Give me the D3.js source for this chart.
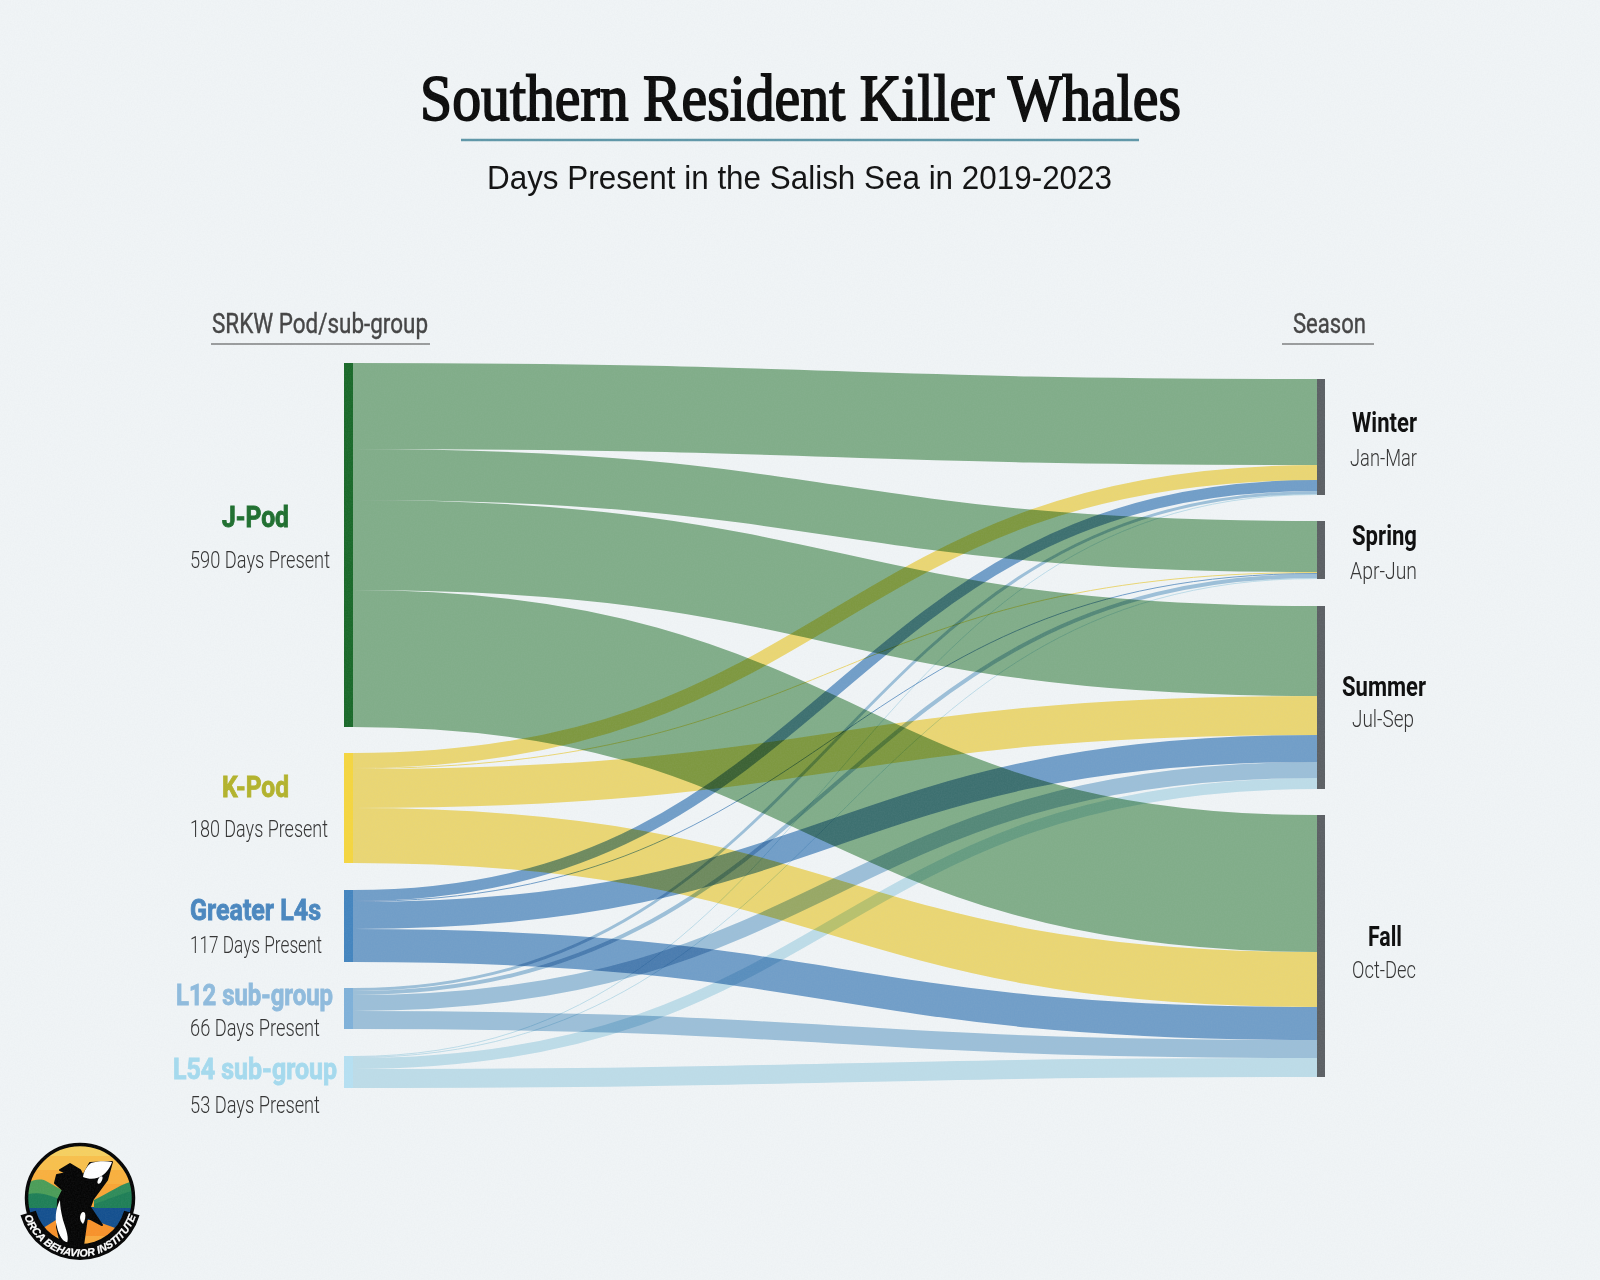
<!DOCTYPE html>
<html>
<head>
<meta charset="utf-8">
<script src="https://cdn.jsdelivr.net/npm/d3@7"></script>
<style>
  html, body { margin: 0; padding: 0; background: #f0f4f6; }
  svg { display: block; }
</style>
</head>
<body>
<div id="chart"></div>
<script>
// data (days present)
const pods = ["J-Pod", "K-Pod", "Greater L4s", "L12 sub-group", "L54 sub-group"];
const podTotals = ["590 Days Present", "180 Days Present", "117 Days Present", "66 Days Present", "53 Days Present"];
const seasons = ["Winter", "Spring", "Summer", "Fall"];
const seasonMonths = ["Jan-Mar", "Apr-Jun", "Jul-Sep", "Oct-Dec"];
const jPodDays = [139, 83, 146, 222];
const kPodDays = [24, 2, 64, 90];
const greaterL4sDays = [18, 2, 44, 53];
const l12Days = [5, 6, 26, 29];
const l54Days = [2, 2, 18, 31];
const podDays = [jPodDays, kPodDays, greaterL4sDays, l12Days, l54Days];

const w = 1600;
const h = 1280;
const nodeW = 9;
const leftX = 344;
const rightX = 1317;
const leftTop = 362.6;
const rightTop = 378.6;
const leftGap = 26.6;
const rightGap = 26.5;

const podColors = ["#89b58e", "#f9e077", "#78a5d0", "#a6c8e0", "#c9e6f1"];
const podNodeColors = ["#1a6a2a", "#f5d640", "#4485bf", "#7fb1d9", "#b6e0f2"];
const podTextColors = ["#1f6f2f", "#b3b32c", "#4a87bf", "#8fbbdd", "#a5daee"];
const seasonColor = "#5c6064";

const narrow = "'Liberation Sans Narrow', Roboto, sans-serif";

const svg = d3.select("#chart").append("svg")
  .attr("width", w)
  .attr("height", h)
  .style("isolation", "isolate");

const defs = svg.append("defs");

// paper grain
const grain = defs.append("filter").attr("id", "grain")
  .attr("x", 0).attr("y", 0).attr("width", "100%").attr("height", "100%");
grain.append("feTurbulence")
  .attr("type", "fractalNoise").attr("baseFrequency", 0.7).attr("numOctaves", 2).attr("seed", 4);
grain.append("feColorMatrix")
  .attr("values", "0 0 0 0 0.5  0 0 0 0 0.55  0 0 0 0 0.6  0 0 0 0.5 -0.14");

svg.append("rect").attr("width", w).attr("height", h).attr("fill", "#f0f4f6");

// sankey layout, done by hand because d3-sankey is not in the d3 bundle
const total = d3.sum(podDays, d => d3.sum(d));
const yDays = d3.scaleLinear().domain([0, total]).range([0, 619]);
// whole pixels keep neighbouring bands flush where they leave a node
const bandW = days => Math.round(yDays(days));

let cursor = leftTop;
const podNodes = pods.map((name, i) => {
  const y0 = Math.round(cursor);
  const size = d3.sum(podDays[i], bandW);
  cursor += size + leftGap;
  return { name, y0, y1: y0 + size, next: y0 };
});

cursor = rightTop;
const seasonNodes = seasons.map((name, s) => {
  const y0 = Math.round(cursor);
  const size = d3.sum(podDays, d => bandW(d[s]));
  cursor += size + rightGap;
  return { name, y0, y1: y0 + size, next: y0 };
});

const links = [];
podDays.forEach((row, p) => {
  row.forEach((days, s) => {
    const width = bandW(days);
    const y0 = podNodes[p].next + width / 2;
    const y1 = seasonNodes[s].next + width / 2;
    podNodes[p].next += width;
    seasonNodes[s].next += width;
    links.push({ p, s, width, y0, y1 });
  });
});

const linkPath = d3.linkHorizontal()
  .source(d => [leftX + nodeW, d.y0])
  .target(d => [rightX, d.y1]);

svg.append("g")
  .selectAll("path")
  .data(links)
  .enter()
  .append("path")
  .attr("d", linkPath)
  .attr("fill", "none")
  .attr("stroke", d => podColors[d.p])
  .attr("stroke-width", d => d.width)
  .style("mix-blend-mode", "multiply");

svg.append("g")
  .selectAll("rect")
  .data(podNodes)
  .enter()
  .append("rect")
  .attr("x", leftX)
  .attr("y", d => d.y0)
  .attr("width", nodeW)
  .attr("height", d => d.y1 - d.y0)
  .attr("fill", (_, i) => podNodeColors[i]);

svg.append("g")
  .selectAll("rect")
  .data(seasonNodes)
  .enter()
  .append("rect")
  .attr("x", rightX)
  .attr("y", d => d.y0)
  .attr("width", nodeW - 1)
  .attr("height", d => d.y1 - d.y0)
  .attr("fill", seasonColor);

// text squeezed to the measured width, no condensed face is installed
function label(str, x, y, width, size, opts = {}) {
  const t = svg.append("text")
    .attr("x", x)
    .attr("y", y)
    .attr("textLength", width)
    .attr("lengthAdjust", "spacingAndGlyphs")
    .attr("font-family", opts.family || narrow)
    .attr("font-size", size)
    .attr("font-weight", opts.weight || 400)
    .attr("fill", opts.fill || "#111")
    .text(str);
  if (opts.thick) t.attr("stroke", opts.fill || "#111").attr("stroke-width", opts.thick);
  return t;
}

label("Southern Resident Killer Whales", 420, 119.5, 761, 66,
  { family: "'Liberation Serif', serif", fill: "#0c0c0c", thick: 1.8 });
svg.append("line").attr("x1", 461).attr("x2", 1139).attr("y1", 140).attr("y2", 140)
  .attr("stroke", "#5f97a8").attr("stroke-width", 2.5);
label("Days Present in the Salish Sea in 2019-2023", 487, 189, 625, 34,
  { family: "'Liberation Sans', sans-serif", fill: "#111" });

label("SRKW Pod/sub-group", 212, 333, 216, 28, { fill: "#444", thick: 0.4 });
svg.append("line").attr("x1", 211).attr("x2", 430).attr("y1", 344).attr("y2", 344)
  .attr("stroke", "#444").attr("stroke-width", 1.2);
label("Season", 1293, 333, 73, 28, { fill: "#444", thick: 0.4 });
svg.append("line").attr("x1", 1282).attr("x2", 1374).attr("y1", 344).attr("y2", 344)
  .attr("stroke", "#444").attr("stroke-width", 1.2);

// label boxes: left x, width, name baseline, sub baseline
const podLabelPos = [
  { x: 222, w: 67, y: 527, subY: 568, subW: 140 },
  { x: 222, w: 67, y: 797, subY: 837, subW: 138 },
  { x: 190, w: 131, y: 920, subY: 953, subW: 132 },
  { x: 176, w: 157, y: 1005, subY: 1036, subW: 130 },
  { x: 173, w: 164, y: 1079, subY: 1113, subW: 130 }
];
pods.forEach((name, i) => {
  const pos = podLabelPos[i];
  label(name, pos.x, pos.y, pos.w, 30, { weight: 700, fill: podTextColors[i], thick: 0.9 });
  label(podTotals[i], 190, pos.subY, pos.subW, 23, { family: "Roboto, sans-serif", weight: 300, fill: "#333" });
});

const seasonLabelPos = [
  { x: 1352, w: 65, y: 432, subX: 1350, subW: 67, subY: 466 },
  { x: 1352, w: 65, y: 545, subX: 1350, subW: 67, subY: 579 },
  { x: 1342, w: 84, y: 696, subX: 1352, subW: 62, subY: 727 },
  { x: 1368, w: 34, y: 946, subX: 1352, subW: 64, subY: 978 }
];
seasons.forEach((name, i) => {
  const pos = seasonLabelPos[i];
  label(name, pos.x, pos.y, pos.w, 28, { weight: 700, fill: "#0d0d0d" });
  label(seasonMonths[i], pos.subX, pos.subY, pos.subW, 23, { family: "Roboto, sans-serif", weight: 300, fill: "#333" });
});

// logo, bottom left
const logo = svg.append("g").attr("transform", "translate(80,1198)");
defs.append("clipPath").attr("id", "logoClip").append("circle").attr("r", 53);
const scene = logo.append("g").attr("clip-path", "url(#logoClip)");
const logoBands = [
  ["#f6d060", -55, 13], ["#f8c04c", -42, 14], ["#f9b03e", -28, 14], ["#f9a535", -14, 30],
  ["#14508f", 9, 28], ["#f8922a", 32, 8], ["#f9ab3e", 40, 15]
];
logoBands.forEach(b => scene.append("rect")
  .attr("x", -55).attr("y", b[1]).attr("width", 110).attr("height", b[2]).attr("fill", b[0]));
scene.append("path").attr("d", "M-55,-12 C-50,-18 -40,-20 -34,-17 C-28,-13 -20,-10 -14,-5 L-14,10 L-55,10 Z").attr("fill", "#4b9d58");
scene.append("path").attr("d", "M-55,-3 C-40,-8 -28,-2 -14,4 L-14,10 L-55,10 Z").attr("fill", "#1f7f57");
scene.append("path").attr("d", "M55,-17 C46,-17 30,-6 14,2 L14,10 L55,10 Z").attr("fill", "#2f8c5a");
scene.append("path").attr("d", "M55,-8 C40,-4 28,2 14,6 L14,10 L55,10 Z").attr("fill", "#1f7f57");
scene.append("path").attr("d", "M13,22 L38,31 L55,55 L-55,55 L-40,32 L-24,22 Z").attr("fill", "#f8922a");
scene.append("rect").attr("x", -40).attr("y", 38).attr("width", 80).attr("height", 17).attr("fill", "#f9ab3e");
// breaching orca
scene.append("path")
  .attr("d", "M-20,-28 L-10,-34 L0,-28 L3,-22 L10,-35 L32,-36 L27,-18 L13,1 L10,9 L22,27 L7,19 L2,55 L-17,55 L-23,29 L-22,2 L-17,-8 L-25,-15 L-23,-23 L-13,-25 Z")
  .attr("fill", "#050505").attr("stroke", "#050505").attr("stroke-linejoin", "round").attr("stroke-width", 2);
scene.append("path").attr("d", "M3,-21 C4,-28 8,-33 11,-35 C18,-37 26,-37 32,-36 C30,-30 26,-25 23,-23 C18,-19 10,-18 3,-21 Z").attr("fill", "#fff");
scene.append("path").attr("d", "M-20,2 C-25,12 -25,22 -23,29 C-21,38 -17,43 -13,45 C-11,40 -13,34 -17,22 C-19,14 -20,8 -20,2 Z").attr("fill", "#fff");
scene.append("path").attr("d", "M0,19 C1,14 3,13 5,15 C6,18 5,23 3,26 C1,24 0,22 0,19 Z").attr("fill", "#fff");
scene.append("ellipse").attr("cx", 20).attr("cy", -18).attr("rx", 2).attr("ry", 4).attr("transform", "rotate(25 20 -18)").attr("fill", "#fff");
logo.append("circle").attr("r", 53.5).attr("fill", "none").attr("stroke", "#050505").attr("stroke-width", 3.5);
// ribbon with the institute name on it
logo.append("path")
  .attr("d", d3.arc().innerRadius(46).outerRadius(62).startAngle(Math.PI * 0.59).endAngle(Math.PI * 1.41)())
  .attr("fill", "#050505");
defs.append("path").attr("id", "logoArc").attr("d", "M-56,17 A58.5,58.5 0 0 0 56,17");
logo.append("text")
  .attr("font-family", "'Liberation Sans', sans-serif")
  .attr("font-size", 10.6)
  .attr("font-weight", 700)
  .attr("font-style", "italic")
  .attr("fill", "#fff")
  .attr("stroke", "#fff")
  .attr("stroke-width", 0.25)
  .append("textPath")
  .attr("href", "#logoArc")
  .attr("startOffset", "50%")
  .attr("text-anchor", "middle")
  .text("ORCA BEHAVIOR INSTITUTE");

// grain goes on top so marks pick it up too
svg.append("rect").attr("width", w).attr("height", h).attr("filter", "url(#grain)").attr("opacity", 0.22).style("pointer-events", "none");
</script>
</body>
</html>
